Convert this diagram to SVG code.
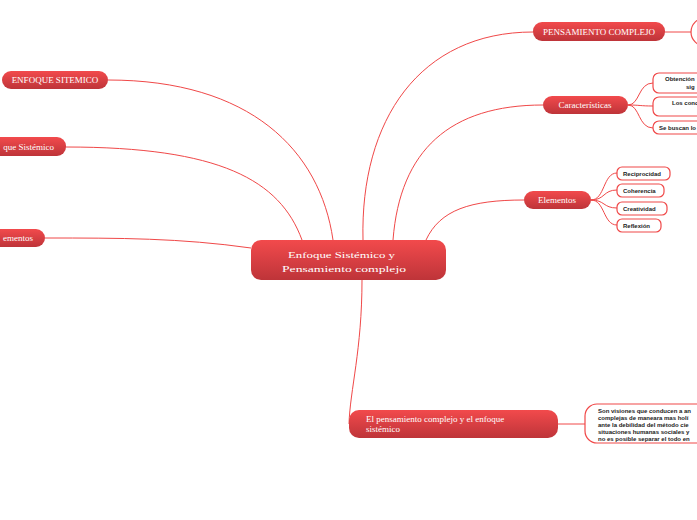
<svg xmlns="http://www.w3.org/2000/svg" width="697" height="520" viewBox="0 0 697 520">
<defs>
<linearGradient id="g" x1="0" y1="0" x2="0" y2="1"><stop offset="0" stop-color="#f24a4c"/><stop offset="1" stop-color="#be3439"/></linearGradient>
<style>
.n{fill:url(#g)}
.t{font-family:"Liberation Serif",serif;fill:#fff;font-size:9px}
.s{fill:#fff;stroke:#f04848;stroke-width:1.2}
.st{font-family:"Liberation Sans",Arial,sans-serif;font-weight:bold;font-size:6px;fill:#222}
.c{fill:none;stroke:#f04848;stroke-width:1}
</style>
</defs>
<rect width="697" height="520" fill="#fff"/>
<g id="connectors">
<path class="c" d="M333 240 C320 150 250 80 108 80"/>
<path class="c" d="M302 240 C280 180 220 147 66 147"/>
<path class="c" d="M251 248 C180 238 120 238 45 238"/>
<path class="c" d="M363 240 C360 120 420 32 533 32"/>
<path class="c" d="M393 240 C400 150 450 105 543 105"/>
<path class="c" d="M426 240 C440 210 470 200 524 200"/>
<path class="c" d="M362 280 C362 350 350 390 349 424"/>
<path class="c" d="M665 32 H691"/>
<path class="c" d="M628 105 C640 105 638 83 653 83 M628 105 C640 105 640 106 653 106 M628 105 C640 105 638 128 653 128"/>
<path class="c" d="M591 200 C605 200 603 173 617 173 M591 200 C605 200 603 190 617 190 M591 200 C605 200 603 208 617 208 M591 200 C605 200 603 225 617 225"/>
<path class="c" d="M558 424 H585"/>
</g>
<g id="center"><rect class="n" x="251" y="240" width="195" height="40" rx="10"/><text class="t" font-size="12" x="288" y="258" textLength="107" lengthAdjust="spacingAndGlyphs">Enfoque Sistémico y</text><text class="t" font-size="12" x="282" y="272" textLength="124" lengthAdjust="spacingAndGlyphs">Pensamiento complejo</text></g>
<g id="enfoque-sitemico"><rect class="n" x="2" y="71" width="106" height="18" rx="9"/><text class="t" x="55" y="83" text-anchor="middle">ENFOQUE SITEMICO</text></g>
<g id="enfoque-sistemico"><rect class="n" x="-50" y="137" width="116" height="19" rx="9"/><text class="t" x="54" y="150" text-anchor="end">que Sistémico</text></g>
<g id="elementos-left"><rect class="n" x="-50" y="229" width="95" height="18" rx="9"/><text class="t" x="33" y="241" text-anchor="end">ementos</text></g>
<g id="pensamiento"><rect class="n" x="533" y="22" width="132" height="19" rx="9"/><text class="t" x="599" y="35" text-anchor="middle">PENSAMIENTO COMPLEJO</text></g>
<g id="pc-child"><rect class="s" x="691" y="18" width="40" height="28" rx="14"/></g>
<g id="caracteristicas"><rect class="n" x="543" y="96" width="85" height="18" rx="9"/><text class="t" x="585" y="108" text-anchor="middle">Características</text></g>
<g id="c1"><rect class="s" x="653" y="73" width="60" height="20" rx="6"/><text class="st" x="665" y="81">Obtención</text><text class="st" x="686" y="89">sig</text></g>
<g id="c2"><rect class="s" x="653" y="97" width="60" height="19" rx="6"/><text class="st" x="672" y="105">Los conc</text></g>
<g id="c3"><rect class="s" x="653" y="121" width="60" height="13" rx="6"/><text class="st" x="659" y="130">Se buscan lo</text></g>
<g id="elementos"><rect class="n" x="524" y="191" width="67" height="18" rx="9"/><text class="t" x="557" y="203" text-anchor="middle">Elementos</text></g>
<g id="e1"><rect class="s" x="617" y="167" width="53" height="13" rx="5"/><text class="st" x="623" y="176">Reciprocidad</text></g>
<g id="e2"><rect class="s" x="617" y="184" width="47" height="13" rx="5"/><text class="st" x="623" y="193">Coherencia</text></g>
<g id="e3"><rect class="s" x="617" y="202" width="50" height="13" rx="5"/><text class="st" x="623" y="211">Creatividad</text></g>
<g id="e4"><rect class="s" x="617" y="219" width="44" height="13" rx="5"/><text class="st" x="623" y="228">Reflexión</text></g>
<g id="pensamiento-enfoque"><rect class="n" x="349" y="410" width="209" height="28" rx="10"/><text class="t" x="366" y="422">El pensamiento complejo y el enfoque</text><text class="t" x="366" y="432">sistémico</text></g>
<g id="text-box"><rect class="s" x="585" y="404" width="130" height="39" rx="12"/>
<text class="st" x="598" y="413">Son visiones que conducen a an</text>
<text class="st" x="598" y="420">complejas de maneara mas holí</text>
<text class="st" x="598" y="427">ante la debilidad del método cie</text>
<text class="st" x="598" y="434">situaciones humanas sociales y</text>
<text class="st" x="598" y="441">no es posible separar el todo en</text></g>
</svg>
